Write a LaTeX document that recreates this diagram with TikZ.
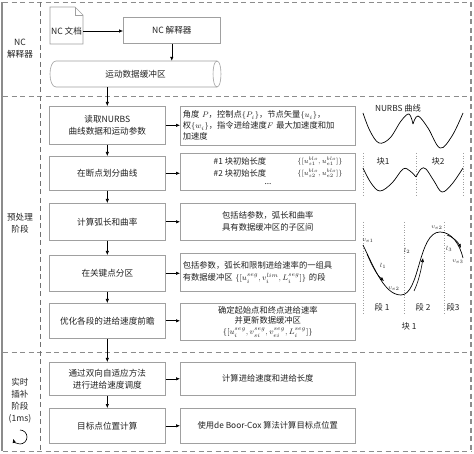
\documentclass[tikz,border=0pt]{standalone}
\usepackage{fontspec}
\setmainfont{Noto Sans CJK SC}
\usetikzlibrary{arrows.meta}
\definecolor{bordergray}{HTML}{A0A0A0}
\definecolor{dashgray}{HTML}{8C8C8C}
\definecolor{ink}{HTML}{222222}
\begin{document}
\begin{tikzpicture}[x=1pt,y=-1pt,
  box/.style={draw=bordergray, line width=0.6pt, fill=white, minimum width=116pt, anchor=north west, inner sep=1pt, align=center, text=ink, font=\fontsize{8.6}{12}\selectfont},
  rbox/.style={box, minimum width=175pt},
  rtext/.style={text width=170pt, align=left, font=\fontsize{8.3}{11}\selectfont},
  arr/.style={-{Latex[length=4pt,width=3.5pt]}, line width=0.6pt},
  sep/.style={dashgray, dash pattern=on 5pt off 3.5pt, line width=0.8pt},
  lab/.style={align=center, text=ink, font=\fontsize{8.6}{12}\selectfont},
  small/.style={text=ink, font=\fontsize{8.3}{11}\selectfont, inner sep=0pt},
  mathlab/.style={text=ink, font=\fontsize{6.8}{8}\selectfont, inner sep=0pt},
  curve/.style={line width=0.7pt, black},
  guide/.style={bordergray, dotted, line width=0.6pt}
]
\useasboundingbox (0,0) rectangle (474,454);

% frame
\draw[dashgray, line width=2pt] (2,2.5) -- (2,451);
\draw[sep] (3,2.5) -- (471,2.5);
\draw[sep, line width=2pt] (471,2.5) -- (471,451);
\draw[sep] (3,451) -- (471,451);
\draw[sep] (3,96) -- (471,96);
\draw[sep] (3,352) -- (471,352);
\draw[sep, dashgray!80!black] (40,2.5) -- (40,451);

% stage labels
\node[lab] (l1) at (20,49) {NC\\解释器};
\node[lab] (l2) at (20,223) {预处理\\阶段};
\node[lab] (l3) at (20,401) {实时\\插补\\阶段\\(1ms)};
\coordinate (loopstart) at (20,430);
\draw[arr] (loopstart) arc[start angle=90, end angle=-165, radius=7pt];

% top section
\draw[bordergray, line width=0.6pt, fill=white] (50,7) -- (75,7) -- (83,15) -- (83,44) -- (50,44) -- cycle;
\draw[bordergray, line width=0.6pt] (75,7) -- (75,15) -- (83,15);
\node[lab, minimum width=33pt, minimum height=26pt, inner sep=0pt] (doc) at (66.5,31) {NC 文档};
\node[box, minimum width=97pt, minimum height=26pt] (nc) at (123,17) {NC 解释器};
\draw[arr] (doc.east) -- (nc.west |- doc.east);

\node[lab, minimum width=171pt, minimum height=26pt, inner sep=0pt] (cyl) at (135.5,74) {运动数据缓冲区};
\draw[bordergray, line width=0.6pt] (217,61) -- (56,61) .. controls (48,61) and (48,87) .. (56,87) -- (217,87);
\draw[bordergray, line width=0.6pt] (217,61) .. controls (222.3,61) and (222.3,87) .. (217,87) .. controls (211.7,87) and (211.7,61) .. (217,61);
\draw[arr] (nc.south) -- (nc.south |- cyl.north);

% left process boxes
\node[box, minimum height=38pt] (b1) at (49,106) {读取NURBS\\曲线数据和运动参数};
\node[box, minimum height=34pt] (b2) at (49,156) {在断点划分曲线};
\node[box, minimum height=37pt] (b3) at (49,203) {计算弧长和曲率};
\node[box, minimum height=36pt] (b4) at (49,255) {在关键点分区};
\node[box, minimum height=35pt] (b5) at (49,303) {优化各段的进给速度前瞻};
\node[box, minimum height=33pt] (b6) at (49,362) {通过双向自适应方法\\进行进给速度调度};
\node[box, minimum height=35pt] (b7) at (49,408) {目标点位置计算};

\draw[arr] (b1.north |- cyl.south) -- (b1.north);
\draw[arr] (b1.south) -- (b2.north);
\draw[arr] (b2.south) -- (b3.north);
\draw[arr] (b3.south) -- (b4.north);
\draw[arr] (b4.south) -- (b5.north);
\draw[arr] (b5.south) -- (b6.north);
\draw[arr] (b6.south) -- (b7.north);

% right boxes
\node[rbox, minimum height=39pt, rtext] (r1) at (180,106) {角度 $P$，控制点$\{P_i\}$，节点矢量$\{u_i\}$，\\权$\{w_i\}$，指令进给速度$F$ 最大加速度和加\\加速度};
\node[rbox, minimum height=37pt] (r2) at (180,153) {};
\node[small] (r2a) at (240,161) {\#1 块初始长度};
\node[mathlab] (r2b) at (320,161) {$\{[u_{s1}^{blo},u_{e1}^{blo}]\}$};
\node[small] (r2c) at (240,173.5) {\#2 块初始长度};
\node[mathlab] (r2d) at (320,173.5) {$\{[u_{s2}^{blo},u_{e2}^{blo}]\}$};
\node[small] (r2e) at (268,184) {...};
\node[rbox, minimum height=37pt, font=\fontsize{8.3}{12}\selectfont] (r3) at (180,203) {包括结参数，弧长和曲率\\具有数据缓冲区的子区间};
\node[rbox, minimum height=38pt, rtext, font=\fontsize{8.3}{12}\selectfont] (r4) at (180,253) {包括参数，弧长和限制进给速率的一组具\\有数据缓冲区 $\{[u_i^{seg},v_i^{lim},L_i^{seg}]\}$ 的段};
\node[rbox, minimum height=37pt, font=\fontsize{8.3}{10.5}\selectfont] (r5) at (180,303) {确定起始点和终点进给速率\\并更新数据缓冲区\\$\{[u_i^{seg},v_{si}^{seg},v_{ei}^{seg},L_i^{seg}]\}$};
\node[rbox, minimum height=33pt, font=\fontsize{8.3}{12}\selectfont] (r6) at (180,362) {计算进给速度和进给长度};
\node[rbox, minimum height=35pt, font=\fontsize{8.3}{12}\selectfont] (r7) at (180,408) {使用de Boor-Cox 算法计算目标点位置};

\foreach \i in {1,...,7} {\draw[arr] (b\i.east) -- (r\i.west |- b\i.east);}

% illustration 1: NURBS curve
\node[small] (t1) at (398,108) {NURBS 曲线};
\draw[curve] plot[smooth, tension=0.6] coordinates {(363,113) (370,131) (379,143) (390,138) (401,121) (409,114) (413,124)};
\draw[curve] plot[smooth, tension=0.6] coordinates {(413,124) (418,116) (428,128) (440,148) (452,136) (463,113)};

% illustration 2: blocks
\draw[guide] (363,153) -- (363,197);
\draw[guide] (416,153) -- (416,197);
\draw[guide] (463,153) -- (463,197);
\node[small] (k1) at (383,161) {块1};
\node[small] (k2) at (438,161) {块2};
\draw[curve] plot[smooth, tension=0.6] coordinates {(363,168) (371,183) (380,191) (392,183) (403,169) (410,171) (416,177)};
\draw[curve] plot[smooth, tension=0.6] coordinates {(416,177) (421,169) (426,169) (434,181) (442,192) (452,184) (463,168)};

% illustration 3: segments
\draw[guide] (363,222) -- (363,314);
\draw[guide] (404,222) -- (404,314);
\draw[guide] (444,222) -- (444,314);
\draw[curve] (363,245) .. controls (375,270) and (385,295) .. (401,295)
  .. controls (420,295) and (418,232) .. (440,232)
  .. controls (452,232) and (460,245) .. (463,258);
\draw[arr] (367,254) .. controls (372,266) and (377,275) .. (384,281);
\draw[arr] (414,291) .. controls (418,283) and (421,271) .. (423,258);
\draw[arr] (447,235) .. controls (453,237) and (458,242) .. (461,248);
\node[small, font=\fontsize{6.5}{7}\selectfont] (ve1) at (368,241) {$v_{e1}$};
\node[small, font=\fontsize{6.5}{7}\selectfont] (vl1) at (383,266) {$l_1$};
\node[small, font=\fontsize{6.5}{7}\selectfont] (ve2) at (394,289) {$v_{e2}$};
\node[small, font=\fontsize{6.5}{7}\selectfont] (vl2) at (407,251) {$l_2$};
\node[small, font=\fontsize{6.5}{7}\selectfont] (ve3) at (437,228) {$v_{e2}$};
\node[small, font=\fontsize{6.5}{7}\selectfont] (vl3) at (449,249) {$l_3$};
\node[small, font=\fontsize{6.5}{7}\selectfont] (ve4) at (458,262) {$v_{e3}$};
\node[small] (s1) at (382,307) {段 1};
\node[small] (s2) at (423,307) {段 2};
\node[small] (s3) at (453,307) {段3};
\node[small] (kb) at (409,326) {块 1};
\end{tikzpicture}
\end{document}
